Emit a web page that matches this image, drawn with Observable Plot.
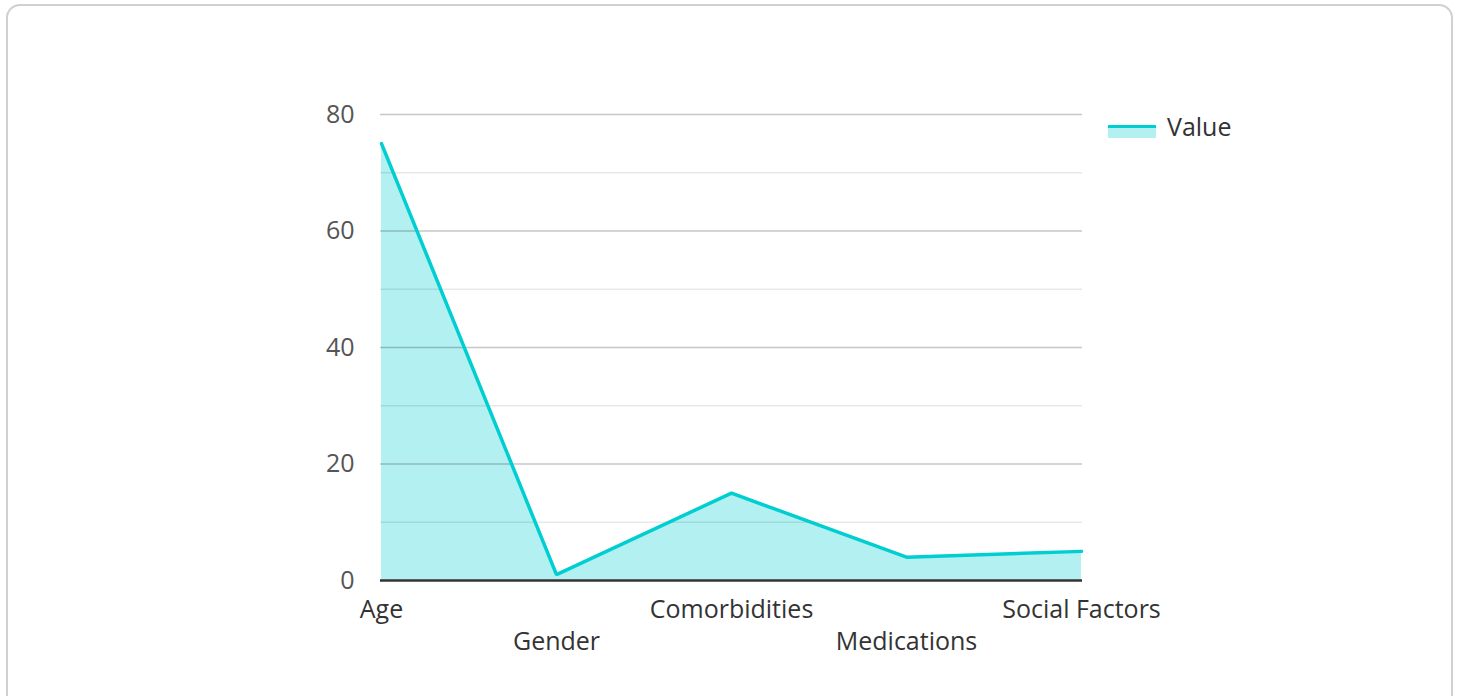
<!DOCTYPE html>
<html>
<head>
<meta charset="utf-8">
<script src="https://cdn.jsdelivr.net/npm/d3@7"></script>
<script src="https://cdn.jsdelivr.net/npm/@observablehq/plot@0.6"></script>
<style>
  html, body { margin: 0; padding: 0; background: #fff; }
  body { width: 1458px; height: 696px; overflow: hidden; font-family: "Open Sans", "Noto Sans", sans-serif; }
  #wrap { position: relative; width: 1458px; height: 696px; }
  #card { position: absolute; left: 6px; top: 4px; width: 1447px; height: 720px; border: 2px solid #d0d0d0; border-radius: 14px; box-sizing: border-box; }
  #chart { position: absolute; left: 0; top: 0; }
  #legend { position: absolute; left: 1108px; top: 109px; display: flex; align-items: center; font-size: 25px; color: #333; }
  #legend .sw { position: relative; width: 48px; height: 14px; margin-right: 11px; transform: translateY(6px); }
  #legend .sw .ln { position: absolute; left: 0; top: 0; width: 48px; height: 3px; background: #00ced1; }
  #legend .sw .ar { position: absolute; left: 0; top: 3px; width: 48px; height: 10px; background: rgba(0,206,209,0.3); }
</style>
</head>
<body>
<div id="wrap">
  <div id="card"></div>
  <div id="chart"></div>
  <div id="legend"><div class="sw"><div class="ln"></div><div class="ar"></div></div><span>Value</span></div>
</div>
<script>
const categories = ["Age", "Gender", "Comorbidities", "Medications", "Social Factors"];
const values = [75, 1, 15, 4, 5];
const seriesName = "Value";
const majorTicks = [0, 20, 40, 60, 80];
const minorTicks = [10, 30, 50, 70];

const data = categories.map((c, i) => ({category: c, value: values[i]}));

const lineColor = "#00ced1";

const chart = Plot.plot({
  width: 1458,
  height: 696,
  marginLeft: 380,
  marginRight: 376,
  marginTop: 114,
  marginBottom: 116,
  style: {fontFamily: "'Open Sans', 'Noto Sans', sans-serif", fontSize: "25px", background: "transparent"},
  x: {type: "point", domain: categories, padding: 0},
  y: {domain: [0, 80]},
  marks: [
    Plot.areaY(data, {x: "category", y: "value", fill: lineColor, fillOpacity: 0.3}),
    Plot.ruleY(minorTicks, {stroke: "#000", strokeOpacity: 0.09, strokeWidth: 1.5}),
    Plot.ruleY(majorTicks.filter(d => d > 0), {stroke: "#000", strokeOpacity: 0.22, strokeWidth: 1.5}),
    Plot.ruleY([0], {stroke: "#333", strokeWidth: 2.5}),
    Plot.lineY(data, {x: "category", y: "value", stroke: lineColor, strokeWidth: 3.5, strokeLinejoin: "miter"}),
    Plot.axisY(majorTicks, {tickSize: 0, tickPadding: 26, label: null, fill: "#555", fontSize: 25}),
    Plot.axisX(categories.filter((d, i) => i % 2 === 0), {tickSize: 0, tickPadding: 20, label: null, fill: "#333", fontSize: 25}),
    Plot.axisX(categories.filter((d, i) => i % 2 === 1), {tickSize: 0, tickPadding: 52, label: null, fill: "#333", fontSize: 25})
  ]
});
document.getElementById("chart").appendChild(chart);
</script>
</body>
</html>
